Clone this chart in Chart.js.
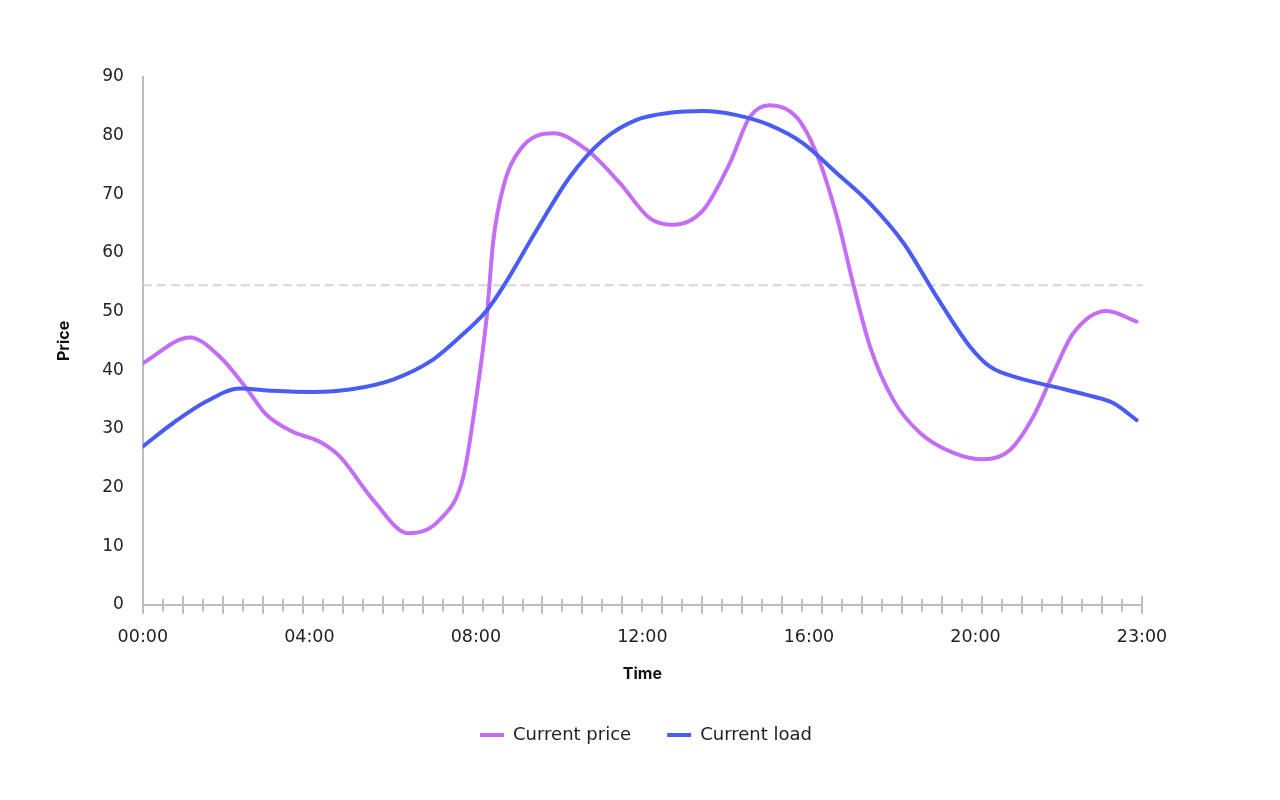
<!DOCTYPE html>
<html>
<head>
<meta charset="utf-8">
<script src="https://cdn.jsdelivr.net/npm/chart.js@4"></script>
<style>
  html, body { margin: 0; padding: 0; background: #fff; }
  #wrap { width: 1280px; height: 800px; }
</style>
</head>
<body>
<div id="wrap"><canvas id="chart"></canvas></div>
<script>
// values (hours since midnight)
var priceHours = [0, 1.13, 1.85, 2.49, 2.97, 3.6, 4.25, 4.73, 5.53, 6.37, 7.13, 7.7, 8.0, 8.26, 8.42, 8.66, 9.06, 9.86,
  10.66, 11.46, 12.18, 12.74, 13.46, 14.1, 14.58, 15.06, 15.7, 16.18, 16.67, 17.06, 17.47, 18.03, 18.67, 19.47,
  20.19, 20.83, 21.39, 21.87, 22.35, 23.15, 23.87];
var priceValues = [41.2, 45.6, 42.3, 36.9, 32.4, 29.5, 27.8, 25.3, 17.9, 12.2, 14.5, 21.9, 34.9, 49.1, 62.2, 71.3, 77.6, 80.4,
  77.6, 71.9, 65.9, 64.8, 67.3, 75.3, 83.2, 85.2, 83.2, 77, 66.2, 54.8, 44, 34.9, 29.3, 25.9,
  24.8, 26.4, 32.1, 39.5, 46.3, 50.1, 48.3];

var loadHours = [0, 0.73, 1.53, 2.33, 3.13, 4.09, 5.05, 6.01, 6.97, 7.62, 8.26, 8.66, 9.46, 10.26, 11.06, 11.86, 12.66,
  13.46, 14.26, 15.06, 15.86, 16.67, 17.47, 18.27, 19.07, 19.87, 20.35, 21.07, 21.87, 22.67, 23.31, 23.87];
var loadValues = [27, 31, 34.7, 36.9, 36.5, 36.3, 36.8, 38.4, 41.8, 45.7, 50.2, 54.3, 63.9, 73, 79.3, 82.7, 83.9,
  84.2, 83.5, 81.8, 78.7, 73.6, 68.4, 61.7, 52.5, 44, 40.6, 38.6, 37.2, 35.8, 34.4, 31.5];

var averagePrice = 54.5;

var xTickHours = [0, 4, 8, 12, 16, 20, 24];
var xTickLabels = ['00:00', '04:00', '08:00', '12:00', '16:00', '20:00', '23:00'];
var minorTickCount = 50;

var axisColor = '#bdbdbd';
var textColor = '#222222';
var priceColor = '#c46ef5';
var loadColor = '#4a5cf6';

function toPoints(xs, ys) {
  return xs.map(function (x, i) { return { x: x, y: ys[i] }; });
}

// small tick marks crossing the x axis line
var axisTicks = {
  id: 'axisTicks',
  afterDraw: function (chart) {
    var xs = chart.scales.x, ys = chart.scales.y, ctx = chart.ctx;
    var base = ys.getPixelForValue(0);
    ctx.save();
    ctx.strokeStyle = axisColor;
    ctx.lineWidth = 2;
    for (var i = 0; i <= minorTickCount; i++) {
      var px = Math.round(xs.getPixelForValue(i * 24 / minorTickCount));
      var long = i % 2 === 0;
      ctx.beginPath();
      ctx.moveTo(px, base - (long ? 9 : 6));
      ctx.lineTo(px, base + (long ? 9 : 7));
      ctx.stroke();
    }
    ctx.restore();
  }
};

// nudge legend so it sits under the plot centre
var legendOffset = 65;
var legendShift = {
  id: 'legendShift',
  afterLayout: function (chart) {
    if (chart.legend) {
      chart.legend.left += legendOffset;
      chart.legend.right += legendOffset;
    }
  }
};

new Chart(document.getElementById('chart'), {
  type: 'line',
  data: {
    datasets: [{
      label: 'Current price',
      data: toPoints(priceHours, priceValues),
      borderColor: priceColor,
      backgroundColor: priceColor,
      borderWidth: 4,
      borderCapStyle: 'round',
      borderJoinStyle: 'round',
      cubicInterpolationMode: 'monotone',
      pointRadius: 0,
      order: 2
    }, {
      label: 'Current load',
      data: toPoints(loadHours, loadValues),
      borderColor: loadColor,
      backgroundColor: loadColor,
      borderWidth: 4,
      borderCapStyle: 'round',
      borderJoinStyle: 'round',
      cubicInterpolationMode: 'monotone',
      pointRadius: 0,
      order: 1
    }, {
      label: 'Average',
      data: [{ x: 0, y: averagePrice }, { x: 24, y: averagePrice }],
      borderColor: '#d6d6d6',
      borderWidth: 2,
      borderDash: [9, 5],
      pointRadius: 0,
      order: 3
    }]
  },
  options: {
    responsive: true,
    maintainAspectRatio: false,
    animation: false,
    layout: { padding: { left: 20, right: 138, top: 77, bottom: 46 } },
    plugins: {
      tooltip: { enabled: false },
      legend: {
        position: 'bottom',
        labels: {
          usePointStyle: true,
          pointStyle: 'line',
          pointStyleWidth: 24,
          padding: 36,
          color: textColor,
          font: { family: 'DejaVu Sans', size: 18 },
          filter: function (item) { return item.datasetIndex < 2; },
          sort: function (a, b) { return a.datasetIndex - b.datasetIndex; }
        }
      }
    },
    scales: {
      x: {
        type: 'linear',
        min: 0,
        max: 24,
        afterBuildTicks: function (scale) {
          scale.ticks = xTickHours.map(function (h) { return { value: h }; });
        },
        ticks: {
          autoSkip: false,
          maxRotation: 0,
          padding: 22,
          color: textColor,
          font: { family: 'DejaVu Sans', size: 17.5 },
          callback: function (v) { return xTickLabels[xTickHours.indexOf(v)]; }
        },
        grid: { display: false, drawTicks: false },
        border: { display: true, color: axisColor, width: 2 },
        title: {
          display: true,
          text: 'Time',
          color: '#111',
          font: { family: 'Inter', size: 16, weight: 'bold' },
          padding: { top: -5, bottom: 6 }
        }
      },
      y: {
        min: 0,
        max: 90,
        ticks: {
          stepSize: 10,
          padding: 19,
          color: textColor,
          font: { family: 'DejaVu Sans', size: 17 }
        },
        grid: { display: false, drawTicks: false },
        border: { display: true, color: axisColor, width: 2 },
        title: {
          display: true,
          text: 'Price',
          color: '#111',
          font: { family: 'Inter', size: 16, weight: 'bold' },
          padding: { top: 35, bottom: 9 }
        }
      }
    }
  },
  plugins: [axisTicks, legendShift]
});
</script>
</body>
</html>
